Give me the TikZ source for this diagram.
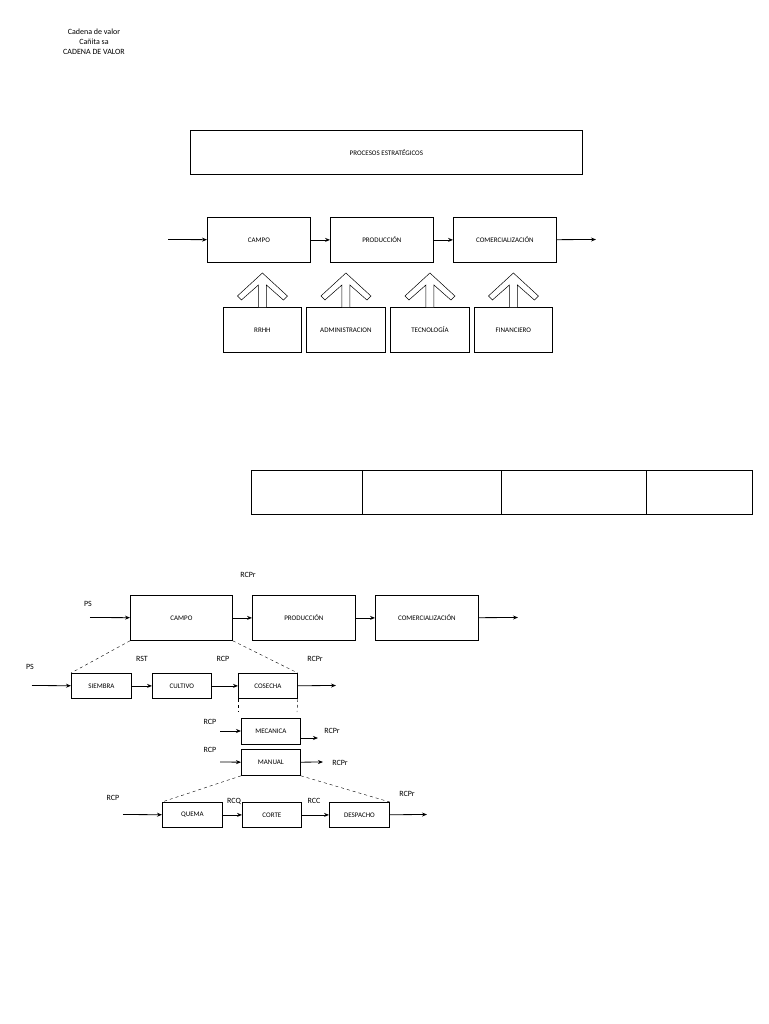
\documentclass[tikz,border=0pt]{standalone}
\usepackage{fontspec}
\setmainfont{Carlito}
\usetikzlibrary{arrows.meta}
\begin{document}
\begin{tikzpicture}[x=1pt,y=-1pt,
  bx/.style={draw,thick,inner sep=0pt,font=\fontsize{7}{8}\selectfont},
  ar/.style={thick,-{Stealth[length=5pt,width=4pt]}},
  dsh/.style={dashed,thin},
  lb/.style={font=\fontsize{8}{9}\selectfont,inner sep=0pt},
  upar/.style={draw,line width=0.5pt,fill=white}]
\path[fill=white] (0,0) rectangle (768,1024);
\node[lb,align=center] (title) at (94,42) {Cadena de valor\\[1pt]Cañita sa\\[1pt]CADENA DE VALOR};
\newcommand\bxn[6]{\node[bx,minimum width=#4-#2,minimum height=#5-#3,anchor=north west] (#1) at (#2,#3) {#6};}
\bxn{pe}{190}{130}{582}{174}{PROCESOS ESTRATÉGICOS}
\bxn{c1}{207}{217}{310}{262}{CAMPO}
\bxn{p1}{330}{217}{433}{262}{PRODUCCIÓN}
\bxn{m1}{453}{217}{556}{262}{COMERCIALIZACIÓN}
\coordinate (in1) at (168,239.5); \coordinate (out1) at (596,239.5);
\draw[ar] (in1) -- (c1); \draw[ar] (c1) -- (p1); \draw[ar] (p1) -- (m1); \draw[ar] (m1) -- (out1);
\bxn{s1}{223}{307}{301}{352}{RRHH}
\bxn{s2}{306}{307}{385}{352}{ADMINISTRACION}
\bxn{s3}{390}{307}{469}{352}{TECNOLOGÍA}
\bxn{s4}{474}{307}{552}{352}{FINANCIERO}
\foreach \s in {s1,s2,s3,s4}{
  \draw[upar] ([xshift=-4pt]\s.north) -- ++(0,-22) -- ++(-17,15) -- ++(-4,-4) -- ++(25,-23) -- ++(25,23) -- ++(-4,4) -- ++(-17,-15) -- ++(0,22);
}
% table
\draw[thin] (251,470) rectangle (752,514);
\draw[thin] (362,470) -- (362,514) (501,470) -- (501,514) (646,470) -- (646,514);
% lower chain
\bxn{c2}{130}{595}{232}{640}{CAMPO}
\bxn{p2}{252}{595}{355}{640}{PRODUCCIÓN}
\bxn{m2}{375}{595}{478}{640}{COMERCIALIZACIÓN}
\coordinate (in2) at (90,617.5); \coordinate (out2) at (518,617.5);
\draw[ar] (in2) -- (c2); \draw[ar] (c2) -- (p2); \draw[ar] (p2) -- (m2); \draw[ar] (m2) -- (out2);
\node[lb] (l1) at (248,575) {RCPr};
\node[lb] (l2) at (88,604) {PS};
\bxn{si}{71}{673}{131}{698}{SIEMBRA}
\bxn{cu}{152}{673}{211}{698}{CULTIVO}
\bxn{co}{238}{673}{297}{698}{COSECHA}
\coordinate (in3) at (32,685.5); \coordinate (out3) at (336,685.5);
\draw[ar] (in3) -- (si); \draw[ar] (si) -- (cu); \draw[ar] (cu) -- (co); \draw[ar] (co) -- (out3);
\draw[dsh] (c2.south west) -- (si.north west);
\draw[dsh] (c2.south east) -- (co.north east);
\node[lb] (l3) at (30,667) {PS};
\node[lb] (l4) at (142,659) {RST};
\node[lb] (l5) at (223,659) {RCP};
\node[lb] (l6) at (315,659) {RCPr};
\coordinate (d1) at (238,712); \coordinate (d2) at (297,712);
\draw[dsh] (co.south west) -- (d1); \draw[dsh] (co.south east) -- (d2);
\bxn{me}{241}{718}{300}{744}{MECANICA}
\bxn{ma}{241}{749}{300}{775}{MANUAL}
\coordinate (in4) at (220,731); \coordinate (out4) at (318,738);
\draw[ar] (in4) -- (in4-|me.west); \draw[ar] (out4-|me.east) -- (out4);
\coordinate (in5) at (220,762); \coordinate (out5) at (323,762);
\draw[ar] (in5) -- (ma); \draw[ar] (ma) -- (out5);
\node[lb] (l7) at (210,722) {RCP};
\node[lb] (l8) at (332,731) {RCPr};
\node[lb] (l9) at (210,750) {RCP};
\node[lb] (l10) at (340,763) {RCPr};
\bxn{qu}{162}{802}{222}{827}{QUEMA}
\bxn{ct}{242}{802}{301}{827}{CORTE}
\bxn{de}{329}{802}{389}{827}{DESPACHO}
\coordinate (in6) at (123,814.5); \coordinate (out6) at (427,814.5);
\draw[ar] (in6) -- (qu); \draw[ar] (qu) -- (ct); \draw[ar] (ct) -- (de); \draw[ar] (de) -- (out6);
\draw[dsh] (ma.south west) -- (qu.north west);
\draw[dsh] (ma.south east) -- (de.north east);
\node[lb] (l11) at (113,798) {RCP};
\node[lb] (l12) at (234,801) {RCQ};
\node[lb] (l13) at (314,801) {RCC};
\node[lb] (l14) at (407,794) {RCPr};
\end{tikzpicture}
\end{document}
